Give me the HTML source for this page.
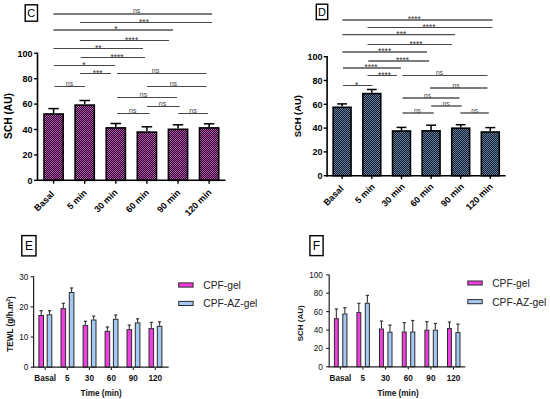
<!DOCTYPE html>
<html><head><meta charset="utf-8"><style>
html,body{margin:0;padding:0;background:#fff;width:550px;height:399px;overflow:hidden}
svg{display:block;font-family:"Liberation Sans", sans-serif}
</style></head><body>
<svg width="550" height="399" viewBox="0 0 550 399">
<rect width="550" height="399" fill="#fff"/>
<defs>
<pattern id="patC" x="0" y="0" width="2" height="2" patternUnits="userSpaceOnUse">
<rect width="2" height="2" fill="#1c081c"/><rect width="1" height="1" fill="#c24cba"/><rect x="1" y="1" width="1" height="1" fill="#c24cba"/>
</pattern>
<pattern id="patD" x="0" y="0" width="2" height="2" patternUnits="userSpaceOnUse">
<rect width="2" height="2" fill="#121820"/><rect width="1" height="1" fill="#6482ac"/><rect x="1" y="1" width="1" height="1" fill="#6482ac"/>
</pattern>
</defs>
<line x1="53.60" y1="113.20" x2="53.60" y2="108.60" stroke="#000" stroke-width="1.5"/>
<line x1="48.35" y1="108.60" x2="58.85" y2="108.60" stroke="#000" stroke-width="1.5"/>
<rect x="44.00" y="114.00" width="19.20" height="66.30" fill="url(#patC)" stroke="#000" stroke-width="1.6"/>
<line x1="84.70" y1="104.30" x2="84.70" y2="100.50" stroke="#000" stroke-width="1.5"/>
<line x1="79.45" y1="100.50" x2="89.95" y2="100.50" stroke="#000" stroke-width="1.5"/>
<rect x="75.10" y="105.10" width="19.20" height="75.20" fill="url(#patC)" stroke="#000" stroke-width="1.6"/>
<line x1="115.80" y1="127.10" x2="115.80" y2="123.50" stroke="#000" stroke-width="1.5"/>
<line x1="110.55" y1="123.50" x2="121.05" y2="123.50" stroke="#000" stroke-width="1.5"/>
<rect x="106.20" y="127.90" width="19.20" height="52.40" fill="url(#patC)" stroke="#000" stroke-width="1.6"/>
<line x1="146.90" y1="131.30" x2="146.90" y2="126.80" stroke="#000" stroke-width="1.5"/>
<line x1="141.65" y1="126.80" x2="152.15" y2="126.80" stroke="#000" stroke-width="1.5"/>
<rect x="137.30" y="132.10" width="19.20" height="48.20" fill="url(#patC)" stroke="#000" stroke-width="1.6"/>
<line x1="178.00" y1="128.50" x2="178.00" y2="124.80" stroke="#000" stroke-width="1.5"/>
<line x1="172.75" y1="124.80" x2="183.25" y2="124.80" stroke="#000" stroke-width="1.5"/>
<rect x="168.40" y="129.30" width="19.20" height="51.00" fill="url(#patC)" stroke="#000" stroke-width="1.6"/>
<line x1="209.10" y1="127.10" x2="209.10" y2="123.80" stroke="#000" stroke-width="1.5"/>
<line x1="203.85" y1="123.80" x2="214.35" y2="123.80" stroke="#000" stroke-width="1.5"/>
<rect x="199.50" y="127.90" width="19.20" height="52.40" fill="url(#patC)" stroke="#000" stroke-width="1.6"/>
<line x1="37.50" y1="52.50" x2="37.50" y2="181.10" stroke="#000" stroke-width="1.6"/>
<line x1="36.70" y1="180.30" x2="225.50" y2="180.30" stroke="#000" stroke-width="1.6"/>
<line x1="34.10" y1="180.30" x2="37.50" y2="180.30" stroke="#000" stroke-width="1.4"/>
<text x="32.50" y="183.50" font-size="9" text-anchor="end" font-weight="bold" fill="#000" >0</text>
<line x1="34.10" y1="154.90" x2="37.50" y2="154.90" stroke="#000" stroke-width="1.4"/>
<text x="32.50" y="158.10" font-size="9" text-anchor="end" font-weight="bold" fill="#000" >20</text>
<line x1="34.10" y1="129.50" x2="37.50" y2="129.50" stroke="#000" stroke-width="1.4"/>
<text x="32.50" y="132.70" font-size="9" text-anchor="end" font-weight="bold" fill="#000" >40</text>
<line x1="34.10" y1="104.10" x2="37.50" y2="104.10" stroke="#000" stroke-width="1.4"/>
<text x="32.50" y="107.30" font-size="9" text-anchor="end" font-weight="bold" fill="#000" >60</text>
<line x1="34.10" y1="78.70" x2="37.50" y2="78.70" stroke="#000" stroke-width="1.4"/>
<text x="32.50" y="81.90" font-size="9" text-anchor="end" font-weight="bold" fill="#000" >80</text>
<line x1="34.10" y1="53.30" x2="37.50" y2="53.30" stroke="#000" stroke-width="1.4"/>
<text x="32.50" y="56.50" font-size="9" text-anchor="end" font-weight="bold" fill="#000" >100</text>
<line x1="53.60" y1="180.30" x2="53.60" y2="183.70" stroke="#000" stroke-width="1.4"/>
<line x1="84.70" y1="180.30" x2="84.70" y2="183.70" stroke="#000" stroke-width="1.4"/>
<line x1="115.80" y1="180.30" x2="115.80" y2="183.70" stroke="#000" stroke-width="1.4"/>
<line x1="146.90" y1="180.30" x2="146.90" y2="183.70" stroke="#000" stroke-width="1.4"/>
<line x1="178.00" y1="180.30" x2="178.00" y2="183.70" stroke="#000" stroke-width="1.4"/>
<line x1="209.10" y1="180.30" x2="209.10" y2="183.70" stroke="#000" stroke-width="1.4"/>
<text x="54.80" y="194.80" font-size="9" text-anchor="end" font-weight="bold" fill="#000" transform="rotate(-45 54.80 194.80)">Basal</text>
<text x="87.50" y="193.35" font-size="9" text-anchor="end" font-weight="bold" fill="#000" transform="rotate(-45 87.50 193.35)">5 min</text>
<text x="118.10" y="192.85" font-size="9" text-anchor="end" font-weight="bold" fill="#000" transform="rotate(-45 118.10 192.85)">30 min</text>
<text x="149.55" y="193.20" font-size="9" text-anchor="end" font-weight="bold" fill="#000" transform="rotate(-45 149.55 193.20)">60 min</text>
<text x="181.00" y="193.20" font-size="9" text-anchor="end" font-weight="bold" fill="#000" transform="rotate(-45 181.00 193.20)">90 min</text>
<text x="212.10" y="192.85" font-size="9" text-anchor="end" font-weight="bold" fill="#000" transform="rotate(-45 212.10 192.85)">120 min</text>
<text x="8.30" y="116.00" font-size="10.2" text-anchor="middle" font-weight="bold" fill="#000" transform="rotate(-90 8.30 116.00)" dominant-baseline="central">SCH (AU)</text>
<line x1="53.50" y1="14.00" x2="212.00" y2="14.00" stroke="#505050" stroke-width="1.4"/>
<text x="136.60" y="13.00" font-size="7" text-anchor="middle" font-weight="normal" fill="#444" >ns</text>
<line x1="80.00" y1="22.50" x2="212.00" y2="22.50" stroke="#484848" stroke-width="1.0"/>
<text x="144.00" y="24.80" font-size="8.5" text-anchor="middle" font-weight="normal" fill="#333" >***</text>
<line x1="53.50" y1="30.00" x2="173.00" y2="30.00" stroke="#505050" stroke-width="1.4"/>
<text x="115.80" y="32.30" font-size="8.5" text-anchor="middle" font-weight="normal" fill="#333" >*</text>
<line x1="80.00" y1="40.50" x2="169.00" y2="40.50" stroke="#484848" stroke-width="1.0"/>
<text x="131.60" y="42.80" font-size="8.5" text-anchor="middle" font-weight="normal" fill="#333" >****</text>
<line x1="53.50" y1="48.50" x2="143.00" y2="48.50" stroke="#484848" stroke-width="1.0"/>
<text x="98.30" y="50.80" font-size="8.5" text-anchor="middle" font-weight="normal" fill="#333" >**</text>
<line x1="80.80" y1="57.50" x2="145.00" y2="57.50" stroke="#484848" stroke-width="1.0"/>
<text x="117.00" y="59.80" font-size="8.5" text-anchor="middle" font-weight="normal" fill="#333" >****</text>
<line x1="54.00" y1="65.50" x2="115.20" y2="65.50" stroke="#484848" stroke-width="1.0"/>
<text x="83.80" y="67.80" font-size="8.5" text-anchor="middle" font-weight="normal" fill="#333" >*</text>
<line x1="80.00" y1="73.50" x2="111.00" y2="73.50" stroke="#484848" stroke-width="1.0"/>
<text x="97.70" y="75.80" font-size="8.5" text-anchor="middle" font-weight="normal" fill="#333" >***</text>
<line x1="117.00" y1="73.50" x2="206.50" y2="73.50" stroke="#484848" stroke-width="1.0"/>
<text x="155.50" y="72.50" font-size="7" text-anchor="middle" font-weight="normal" fill="#444" >ns</text>
<line x1="54.30" y1="86.50" x2="85.10" y2="86.50" stroke="#484848" stroke-width="1.0"/>
<text x="69.50" y="85.50" font-size="7" text-anchor="middle" font-weight="normal" fill="#444" >ns</text>
<line x1="147.00" y1="86.50" x2="206.60" y2="86.50" stroke="#484848" stroke-width="1.0"/>
<text x="173.40" y="85.50" font-size="7" text-anchor="middle" font-weight="normal" fill="#444" >ns</text>
<line x1="117.20" y1="97.50" x2="177.00" y2="97.50" stroke="#484848" stroke-width="1.0"/>
<text x="143.50" y="96.50" font-size="7" text-anchor="middle" font-weight="normal" fill="#444" >ns</text>
<line x1="147.00" y1="106.50" x2="179.70" y2="106.50" stroke="#484848" stroke-width="1.0"/>
<text x="162.50" y="105.50" font-size="7" text-anchor="middle" font-weight="normal" fill="#444" >ns</text>
<line x1="117.20" y1="113.50" x2="149.60" y2="113.50" stroke="#484848" stroke-width="1.0"/>
<text x="132.80" y="112.50" font-size="7" text-anchor="middle" font-weight="normal" fill="#444" >ns</text>
<line x1="178.20" y1="113.50" x2="208.00" y2="113.50" stroke="#484848" stroke-width="1.0"/>
<text x="193.00" y="112.50" font-size="7" text-anchor="middle" font-weight="normal" fill="#444" >ns</text>
<rect x="25.20" y="4.80" width="12.30" height="16.40" fill="#fff" stroke="#000" stroke-width="1.4"/>
<text x="31.35" y="16.94" font-size="11" text-anchor="middle" font-weight="normal" fill="#000" >C</text>
<line x1="342.10" y1="106.50" x2="342.10" y2="103.90" stroke="#000" stroke-width="1.5"/>
<line x1="337.20" y1="103.90" x2="347.00" y2="103.90" stroke="#000" stroke-width="1.5"/>
<rect x="333.15" y="107.30" width="17.90" height="68.40" fill="url(#patD)" stroke="#000" stroke-width="1.6"/>
<line x1="371.80" y1="92.80" x2="371.80" y2="89.50" stroke="#000" stroke-width="1.5"/>
<line x1="366.90" y1="89.50" x2="376.70" y2="89.50" stroke="#000" stroke-width="1.5"/>
<rect x="362.85" y="93.60" width="17.90" height="82.10" fill="url(#patD)" stroke="#000" stroke-width="1.6"/>
<line x1="401.50" y1="130.20" x2="401.50" y2="127.40" stroke="#000" stroke-width="1.5"/>
<line x1="396.60" y1="127.40" x2="406.40" y2="127.40" stroke="#000" stroke-width="1.5"/>
<rect x="392.55" y="131.00" width="17.90" height="44.70" fill="url(#patD)" stroke="#000" stroke-width="1.6"/>
<line x1="431.10" y1="130.00" x2="431.10" y2="125.20" stroke="#000" stroke-width="1.5"/>
<line x1="426.20" y1="125.20" x2="436.00" y2="125.20" stroke="#000" stroke-width="1.5"/>
<rect x="422.15" y="130.80" width="17.90" height="44.90" fill="url(#patD)" stroke="#000" stroke-width="1.6"/>
<line x1="460.70" y1="127.40" x2="460.70" y2="124.70" stroke="#000" stroke-width="1.5"/>
<line x1="455.80" y1="124.70" x2="465.60" y2="124.70" stroke="#000" stroke-width="1.5"/>
<rect x="451.75" y="128.20" width="17.90" height="47.50" fill="url(#patD)" stroke="#000" stroke-width="1.6"/>
<line x1="490.30" y1="131.20" x2="490.30" y2="127.60" stroke="#000" stroke-width="1.5"/>
<line x1="485.40" y1="127.60" x2="495.20" y2="127.60" stroke="#000" stroke-width="1.5"/>
<rect x="481.35" y="132.00" width="17.90" height="43.70" fill="url(#patD)" stroke="#000" stroke-width="1.6"/>
<line x1="327.10" y1="56.00" x2="327.10" y2="176.50" stroke="#000" stroke-width="1.6"/>
<line x1="326.30" y1="175.70" x2="505.60" y2="175.70" stroke="#000" stroke-width="1.6"/>
<line x1="323.70" y1="175.70" x2="327.10" y2="175.70" stroke="#000" stroke-width="1.4"/>
<text x="322.50" y="178.90" font-size="9" text-anchor="end" font-weight="bold" fill="#000" >0</text>
<line x1="323.70" y1="151.90" x2="327.10" y2="151.90" stroke="#000" stroke-width="1.4"/>
<text x="322.50" y="155.10" font-size="9" text-anchor="end" font-weight="bold" fill="#000" >20</text>
<line x1="323.70" y1="128.10" x2="327.10" y2="128.10" stroke="#000" stroke-width="1.4"/>
<text x="322.50" y="131.30" font-size="9" text-anchor="end" font-weight="bold" fill="#000" >40</text>
<line x1="323.70" y1="104.30" x2="327.10" y2="104.30" stroke="#000" stroke-width="1.4"/>
<text x="322.50" y="107.50" font-size="9" text-anchor="end" font-weight="bold" fill="#000" >60</text>
<line x1="323.70" y1="80.50" x2="327.10" y2="80.50" stroke="#000" stroke-width="1.4"/>
<text x="322.50" y="83.70" font-size="9" text-anchor="end" font-weight="bold" fill="#000" >80</text>
<line x1="323.70" y1="56.70" x2="327.10" y2="56.70" stroke="#000" stroke-width="1.4"/>
<text x="322.50" y="59.90" font-size="9" text-anchor="end" font-weight="bold" fill="#000" >100</text>
<line x1="342.10" y1="175.70" x2="342.10" y2="179.10" stroke="#000" stroke-width="1.4"/>
<line x1="371.80" y1="175.70" x2="371.80" y2="179.10" stroke="#000" stroke-width="1.4"/>
<line x1="401.50" y1="175.70" x2="401.50" y2="179.10" stroke="#000" stroke-width="1.4"/>
<line x1="431.10" y1="175.70" x2="431.10" y2="179.10" stroke="#000" stroke-width="1.4"/>
<line x1="460.70" y1="175.70" x2="460.70" y2="179.10" stroke="#000" stroke-width="1.4"/>
<line x1="490.30" y1="175.70" x2="490.30" y2="179.10" stroke="#000" stroke-width="1.4"/>
<text x="344.20" y="189.25" font-size="9" text-anchor="end" font-weight="bold" fill="#000" transform="rotate(-45 344.20 189.25)">Basal</text>
<text x="375.30" y="187.40" font-size="9" text-anchor="end" font-weight="bold" fill="#000" transform="rotate(-45 375.30 187.40)">5 min</text>
<text x="405.40" y="187.00" font-size="9" text-anchor="end" font-weight="bold" fill="#000" transform="rotate(-45 405.40 187.00)">30 min</text>
<text x="434.10" y="187.00" font-size="9" text-anchor="end" font-weight="bold" fill="#000" transform="rotate(-45 434.10 187.00)">60 min</text>
<text x="464.60" y="187.00" font-size="9" text-anchor="end" font-weight="bold" fill="#000" transform="rotate(-45 464.60 187.00)">90 min</text>
<text x="493.30" y="187.00" font-size="9" text-anchor="end" font-weight="bold" fill="#000" transform="rotate(-45 493.30 187.00)">120 min</text>
<text x="297.80" y="116.20" font-size="9.4" text-anchor="middle" font-weight="bold" fill="#000" transform="rotate(-90 297.80 116.20)" dominant-baseline="central">SCH (AU)</text>
<line x1="342.40" y1="20.00" x2="492.50" y2="20.00" stroke="#505050" stroke-width="1.4"/>
<text x="414.30" y="22.30" font-size="8.5" text-anchor="middle" font-weight="normal" fill="#333" >****</text>
<line x1="367.50" y1="27.50" x2="492.50" y2="27.50" stroke="#484848" stroke-width="1.0"/>
<text x="429.00" y="29.80" font-size="8.5" text-anchor="middle" font-weight="normal" fill="#333" >****</text>
<line x1="342.40" y1="34.60" x2="455.10" y2="34.60" stroke="#505050" stroke-width="1.4"/>
<text x="401.30" y="36.90" font-size="8.5" text-anchor="middle" font-weight="normal" fill="#333" >***</text>
<line x1="367.50" y1="44.50" x2="451.90" y2="44.50" stroke="#484848" stroke-width="1.0"/>
<text x="416.00" y="46.80" font-size="8.5" text-anchor="middle" font-weight="normal" fill="#333" >****</text>
<line x1="342.40" y1="52.00" x2="427.00" y2="52.00" stroke="#505050" stroke-width="1.4"/>
<text x="384.60" y="54.30" font-size="8.5" text-anchor="middle" font-weight="normal" fill="#333" >****</text>
<line x1="368.30" y1="61.00" x2="429.10" y2="61.00" stroke="#505050" stroke-width="1.4"/>
<text x="402.50" y="63.30" font-size="8.5" text-anchor="middle" font-weight="normal" fill="#333" >****</text>
<line x1="342.90" y1="68.00" x2="400.80" y2="68.00" stroke="#505050" stroke-width="1.4"/>
<text x="371.00" y="70.30" font-size="8.5" text-anchor="middle" font-weight="normal" fill="#333" >****</text>
<line x1="367.50" y1="75.50" x2="396.80" y2="75.50" stroke="#484848" stroke-width="1.0"/>
<text x="384.50" y="77.80" font-size="8.5" text-anchor="middle" font-weight="normal" fill="#333" >****</text>
<line x1="402.50" y1="75.50" x2="487.50" y2="75.50" stroke="#484848" stroke-width="1.0"/>
<text x="439.60" y="75.00" font-size="6.6" text-anchor="middle" font-weight="normal" fill="#444" >ns</text>
<line x1="343.00" y1="85.50" x2="372.40" y2="85.50" stroke="#484848" stroke-width="1.0"/>
<text x="356.60" y="87.80" font-size="8.5" text-anchor="middle" font-weight="normal" fill="#333" >*</text>
<line x1="430.00" y1="88.00" x2="487.50" y2="88.00" stroke="#505050" stroke-width="1.4"/>
<text x="456.00" y="87.50" font-size="6.6" text-anchor="middle" font-weight="normal" fill="#444" >ns</text>
<line x1="402.50" y1="98.00" x2="459.50" y2="98.00" stroke="#505050" stroke-width="1.4"/>
<text x="427.50" y="97.50" font-size="6.6" text-anchor="middle" font-weight="normal" fill="#444" >ns</text>
<line x1="431.20" y1="106.00" x2="461.70" y2="106.00" stroke="#505050" stroke-width="1.4"/>
<text x="446.10" y="105.50" font-size="6.6" text-anchor="middle" font-weight="normal" fill="#444" >ns</text>
<line x1="402.50" y1="113.00" x2="433.70" y2="113.00" stroke="#505050" stroke-width="1.4"/>
<text x="417.40" y="112.50" font-size="6.6" text-anchor="middle" font-weight="normal" fill="#444" >ns</text>
<line x1="460.30" y1="113.00" x2="488.80" y2="113.00" stroke="#505050" stroke-width="1.4"/>
<text x="474.70" y="112.50" font-size="6.6" text-anchor="middle" font-weight="normal" fill="#444" >ns</text>
<rect x="316.30" y="4.20" width="11.40" height="15.40" fill="#fff" stroke="#000" stroke-width="1.4"/>
<text x="322.00" y="15.84" font-size="11" text-anchor="middle" font-weight="normal" fill="#000" >D</text>
<line x1="41.20" y1="315.00" x2="41.20" y2="310.70" stroke="#333" stroke-width="1.1"/>
<line x1="39.60" y1="310.70" x2="42.80" y2="310.70" stroke="#333" stroke-width="1.2"/>
<rect x="38.90" y="315.50" width="4.60" height="51.70" fill="#f03ee0" stroke="#2a2a2a" stroke-width="1.0"/>
<line x1="49.50" y1="314.30" x2="49.50" y2="310.70" stroke="#333" stroke-width="1.1"/>
<line x1="47.90" y1="310.70" x2="51.10" y2="310.70" stroke="#333" stroke-width="1.2"/>
<rect x="47.20" y="314.80" width="4.60" height="52.40" fill="#a3c9f4" stroke="#2a2a2a" stroke-width="1.0"/>
<line x1="63.30" y1="308.20" x2="63.30" y2="303.30" stroke="#333" stroke-width="1.1"/>
<line x1="61.70" y1="303.30" x2="64.90" y2="303.30" stroke="#333" stroke-width="1.2"/>
<rect x="61.00" y="308.70" width="4.60" height="58.50" fill="#f03ee0" stroke="#2a2a2a" stroke-width="1.0"/>
<line x1="71.60" y1="292.00" x2="71.60" y2="288.00" stroke="#333" stroke-width="1.1"/>
<line x1="70.00" y1="288.00" x2="73.20" y2="288.00" stroke="#333" stroke-width="1.2"/>
<rect x="69.30" y="292.50" width="4.60" height="74.70" fill="#a3c9f4" stroke="#2a2a2a" stroke-width="1.0"/>
<line x1="85.40" y1="325.10" x2="85.40" y2="321.30" stroke="#333" stroke-width="1.1"/>
<line x1="83.80" y1="321.30" x2="87.00" y2="321.30" stroke="#333" stroke-width="1.2"/>
<rect x="83.10" y="325.60" width="4.60" height="41.60" fill="#f03ee0" stroke="#2a2a2a" stroke-width="1.0"/>
<line x1="93.70" y1="319.50" x2="93.70" y2="316.10" stroke="#333" stroke-width="1.1"/>
<line x1="92.10" y1="316.10" x2="95.30" y2="316.10" stroke="#333" stroke-width="1.2"/>
<rect x="91.40" y="320.00" width="4.60" height="47.20" fill="#a3c9f4" stroke="#2a2a2a" stroke-width="1.0"/>
<line x1="107.40" y1="330.80" x2="107.40" y2="327.00" stroke="#333" stroke-width="1.1"/>
<line x1="105.80" y1="327.00" x2="109.00" y2="327.00" stroke="#333" stroke-width="1.2"/>
<rect x="105.10" y="331.30" width="4.60" height="35.90" fill="#f03ee0" stroke="#2a2a2a" stroke-width="1.0"/>
<line x1="115.70" y1="318.80" x2="115.70" y2="315.00" stroke="#333" stroke-width="1.1"/>
<line x1="114.10" y1="315.00" x2="117.30" y2="315.00" stroke="#333" stroke-width="1.2"/>
<rect x="113.40" y="319.30" width="4.60" height="47.90" fill="#a3c9f4" stroke="#2a2a2a" stroke-width="1.0"/>
<line x1="129.30" y1="329.20" x2="129.30" y2="325.10" stroke="#333" stroke-width="1.1"/>
<line x1="127.70" y1="325.10" x2="130.90" y2="325.10" stroke="#333" stroke-width="1.2"/>
<rect x="127.00" y="329.70" width="4.60" height="37.50" fill="#f03ee0" stroke="#2a2a2a" stroke-width="1.0"/>
<line x1="137.60" y1="322.40" x2="137.60" y2="318.80" stroke="#333" stroke-width="1.1"/>
<line x1="136.00" y1="318.80" x2="139.20" y2="318.80" stroke="#333" stroke-width="1.2"/>
<rect x="135.30" y="322.90" width="4.60" height="44.30" fill="#a3c9f4" stroke="#2a2a2a" stroke-width="1.0"/>
<line x1="151.30" y1="328.10" x2="151.30" y2="322.40" stroke="#333" stroke-width="1.1"/>
<line x1="149.70" y1="322.40" x2="152.90" y2="322.40" stroke="#333" stroke-width="1.2"/>
<rect x="149.00" y="328.60" width="4.60" height="38.60" fill="#f03ee0" stroke="#2a2a2a" stroke-width="1.0"/>
<line x1="159.60" y1="325.80" x2="159.60" y2="321.80" stroke="#333" stroke-width="1.1"/>
<line x1="158.00" y1="321.80" x2="161.20" y2="321.80" stroke="#333" stroke-width="1.2"/>
<rect x="157.30" y="326.30" width="4.60" height="40.90" fill="#a3c9f4" stroke="#2a2a2a" stroke-width="1.0"/>
<line x1="33.60" y1="276.20" x2="33.60" y2="367.70" stroke="#222" stroke-width="1.2"/>
<line x1="33.10" y1="367.20" x2="168.70" y2="367.20" stroke="#222" stroke-width="1.2"/>
<line x1="30.60" y1="367.20" x2="33.60" y2="367.20" stroke="#222" stroke-width="1.1"/>
<text x="28.30" y="370.15" font-size="8.2" text-anchor="end" font-weight="normal" fill="#111" >0</text>
<line x1="30.60" y1="337.05" x2="33.60" y2="337.05" stroke="#222" stroke-width="1.1"/>
<text x="28.30" y="340.00" font-size="8.2" text-anchor="end" font-weight="normal" fill="#111" >10</text>
<line x1="30.60" y1="306.90" x2="33.60" y2="306.90" stroke="#222" stroke-width="1.1"/>
<text x="28.30" y="309.85" font-size="8.2" text-anchor="end" font-weight="normal" fill="#111" >20</text>
<line x1="30.60" y1="276.75" x2="33.60" y2="276.75" stroke="#222" stroke-width="1.1"/>
<text x="28.30" y="279.70" font-size="8.2" text-anchor="end" font-weight="normal" fill="#111" >30</text>
<line x1="45.20" y1="367.20" x2="45.20" y2="370.00" stroke="#222" stroke-width="1.1"/>
<text x="45.20" y="380.90" font-size="8.2" text-anchor="middle" font-weight="bold" fill="#111" >Basal</text>
<line x1="67.30" y1="367.20" x2="67.30" y2="370.00" stroke="#222" stroke-width="1.1"/>
<text x="67.30" y="380.90" font-size="8.2" text-anchor="middle" font-weight="bold" fill="#111" >5</text>
<line x1="89.40" y1="367.20" x2="89.40" y2="370.00" stroke="#222" stroke-width="1.1"/>
<text x="89.40" y="380.90" font-size="8.2" text-anchor="middle" font-weight="bold" fill="#111" >30</text>
<line x1="111.40" y1="367.20" x2="111.40" y2="370.00" stroke="#222" stroke-width="1.1"/>
<text x="111.40" y="380.90" font-size="8.2" text-anchor="middle" font-weight="bold" fill="#111" >60</text>
<line x1="133.30" y1="367.20" x2="133.30" y2="370.00" stroke="#222" stroke-width="1.1"/>
<text x="133.30" y="380.90" font-size="8.2" text-anchor="middle" font-weight="bold" fill="#111" >90</text>
<line x1="155.30" y1="367.20" x2="155.30" y2="370.00" stroke="#222" stroke-width="1.1"/>
<text x="155.30" y="380.90" font-size="8.2" text-anchor="middle" font-weight="bold" fill="#111" >120</text>
<text x="101.20" y="396.00" font-size="8.2" text-anchor="middle" font-weight="bold" fill="#111" >Time (min)</text>
<text x="10.60" y="324.00" font-size="8.2" text-anchor="middle" font-weight="bold" fill="#111" dominant-baseline="central" transform="rotate(-90 10.60 324.00)">TEWL (g/h.m<tspan font-size="5" dy="-3">2</tspan><tspan dy="3">)</tspan></text>
<rect x="178.70" y="282.90" width="14.40" height="4.20" fill="#f03ee0" stroke="#2a2a2a" stroke-width="1.0"/>
<text x="203.30" y="288.70" font-size="10.25" text-anchor="start" font-weight="normal" fill="#222" >CPF-gel</text>
<rect x="178.70" y="301.40" width="14.40" height="4.10" fill="#a3c9f4" stroke="#2a2a2a" stroke-width="1.0"/>
<text x="203.30" y="307.30" font-size="10.25" text-anchor="start" font-weight="normal" fill="#222" >CPF-AZ-gel</text>
<rect x="21.80" y="235.60" width="14.20" height="20.30" fill="#fff" stroke="#000" stroke-width="1.4"/>
<text x="28.90" y="250.05" font-size="12" text-anchor="middle" font-weight="normal" fill="#000" >E</text>
<line x1="336.35" y1="318.20" x2="336.35" y2="309.00" stroke="#333" stroke-width="1.1"/>
<line x1="334.75" y1="309.00" x2="337.95" y2="309.00" stroke="#333" stroke-width="1.2"/>
<rect x="334.40" y="318.70" width="3.90" height="48.10" fill="#f03ee0" stroke="#2a2a2a" stroke-width="1.0"/>
<line x1="344.85" y1="313.50" x2="344.85" y2="307.70" stroke="#333" stroke-width="1.1"/>
<line x1="343.25" y1="307.70" x2="346.45" y2="307.70" stroke="#333" stroke-width="1.2"/>
<rect x="342.80" y="314.00" width="4.10" height="52.80" fill="#a3c9f4" stroke="#2a2a2a" stroke-width="1.0"/>
<line x1="358.85" y1="312.10" x2="358.85" y2="303.30" stroke="#333" stroke-width="1.1"/>
<line x1="357.25" y1="303.30" x2="360.45" y2="303.30" stroke="#333" stroke-width="1.2"/>
<rect x="356.90" y="312.60" width="3.90" height="54.20" fill="#f03ee0" stroke="#2a2a2a" stroke-width="1.0"/>
<line x1="367.35" y1="302.80" x2="367.35" y2="295.40" stroke="#333" stroke-width="1.1"/>
<line x1="365.75" y1="295.40" x2="368.95" y2="295.40" stroke="#333" stroke-width="1.2"/>
<rect x="365.30" y="303.30" width="4.10" height="63.50" fill="#a3c9f4" stroke="#2a2a2a" stroke-width="1.0"/>
<line x1="381.45" y1="328.50" x2="381.45" y2="321.10" stroke="#333" stroke-width="1.1"/>
<line x1="379.85" y1="321.10" x2="383.05" y2="321.10" stroke="#333" stroke-width="1.2"/>
<rect x="379.50" y="329.00" width="3.90" height="37.80" fill="#f03ee0" stroke="#2a2a2a" stroke-width="1.0"/>
<line x1="389.95" y1="331.70" x2="389.95" y2="325.10" stroke="#333" stroke-width="1.1"/>
<line x1="388.35" y1="325.10" x2="391.55" y2="325.10" stroke="#333" stroke-width="1.2"/>
<rect x="387.90" y="332.20" width="4.10" height="34.60" fill="#a3c9f4" stroke="#2a2a2a" stroke-width="1.0"/>
<line x1="404.25" y1="331.50" x2="404.25" y2="322.70" stroke="#333" stroke-width="1.1"/>
<line x1="402.65" y1="322.70" x2="405.85" y2="322.70" stroke="#333" stroke-width="1.2"/>
<rect x="402.30" y="332.00" width="3.90" height="34.80" fill="#f03ee0" stroke="#2a2a2a" stroke-width="1.0"/>
<line x1="412.75" y1="331.50" x2="412.75" y2="320.50" stroke="#333" stroke-width="1.1"/>
<line x1="411.15" y1="320.50" x2="414.35" y2="320.50" stroke="#333" stroke-width="1.2"/>
<rect x="410.70" y="332.00" width="4.10" height="34.80" fill="#a3c9f4" stroke="#2a2a2a" stroke-width="1.0"/>
<line x1="426.85" y1="329.70" x2="426.85" y2="321.70" stroke="#333" stroke-width="1.1"/>
<line x1="425.25" y1="321.70" x2="428.45" y2="321.70" stroke="#333" stroke-width="1.2"/>
<rect x="424.90" y="330.20" width="3.90" height="36.60" fill="#f03ee0" stroke="#2a2a2a" stroke-width="1.0"/>
<line x1="435.35" y1="329.70" x2="435.35" y2="323.50" stroke="#333" stroke-width="1.1"/>
<line x1="433.75" y1="323.50" x2="436.95" y2="323.50" stroke="#333" stroke-width="1.2"/>
<rect x="433.30" y="330.20" width="4.10" height="36.60" fill="#a3c9f4" stroke="#2a2a2a" stroke-width="1.0"/>
<line x1="449.45" y1="328.10" x2="449.45" y2="322.10" stroke="#333" stroke-width="1.1"/>
<line x1="447.85" y1="322.10" x2="451.05" y2="322.10" stroke="#333" stroke-width="1.2"/>
<rect x="447.50" y="328.60" width="3.90" height="38.20" fill="#f03ee0" stroke="#2a2a2a" stroke-width="1.0"/>
<line x1="457.95" y1="332.10" x2="457.95" y2="324.10" stroke="#333" stroke-width="1.1"/>
<line x1="456.35" y1="324.10" x2="459.55" y2="324.10" stroke="#333" stroke-width="1.2"/>
<rect x="455.90" y="332.60" width="4.10" height="34.20" fill="#a3c9f4" stroke="#2a2a2a" stroke-width="1.0"/>
<line x1="329.20" y1="274.80" x2="329.20" y2="367.30" stroke="#222" stroke-width="1.2"/>
<line x1="328.70" y1="366.80" x2="465.20" y2="366.80" stroke="#222" stroke-width="1.2"/>
<line x1="326.20" y1="366.80" x2="329.20" y2="366.80" stroke="#222" stroke-width="1.1"/>
<text x="322.80" y="369.75" font-size="8.2" text-anchor="end" font-weight="normal" fill="#111" >0</text>
<line x1="326.20" y1="348.40" x2="329.20" y2="348.40" stroke="#222" stroke-width="1.1"/>
<text x="322.80" y="351.35" font-size="8.2" text-anchor="end" font-weight="normal" fill="#111" >20</text>
<line x1="326.20" y1="330.00" x2="329.20" y2="330.00" stroke="#222" stroke-width="1.1"/>
<text x="322.80" y="332.95" font-size="8.2" text-anchor="end" font-weight="normal" fill="#111" >40</text>
<line x1="326.20" y1="311.60" x2="329.20" y2="311.60" stroke="#222" stroke-width="1.1"/>
<text x="322.80" y="314.55" font-size="8.2" text-anchor="end" font-weight="normal" fill="#111" >60</text>
<line x1="326.20" y1="293.20" x2="329.20" y2="293.20" stroke="#222" stroke-width="1.1"/>
<text x="322.80" y="296.15" font-size="8.2" text-anchor="end" font-weight="normal" fill="#111" >80</text>
<line x1="326.20" y1="274.80" x2="329.20" y2="274.80" stroke="#222" stroke-width="1.1"/>
<text x="322.80" y="277.75" font-size="8.2" text-anchor="end" font-weight="normal" fill="#111" >100</text>
<line x1="340.40" y1="366.80" x2="340.40" y2="369.60" stroke="#222" stroke-width="1.1"/>
<text x="340.40" y="380.60" font-size="8.2" text-anchor="middle" font-weight="bold" fill="#111" >Basal</text>
<line x1="362.90" y1="366.80" x2="362.90" y2="369.60" stroke="#222" stroke-width="1.1"/>
<text x="362.90" y="380.60" font-size="8.2" text-anchor="middle" font-weight="bold" fill="#111" >5</text>
<line x1="385.50" y1="366.80" x2="385.50" y2="369.60" stroke="#222" stroke-width="1.1"/>
<text x="385.50" y="380.60" font-size="8.2" text-anchor="middle" font-weight="bold" fill="#111" >30</text>
<line x1="408.30" y1="366.80" x2="408.30" y2="369.60" stroke="#222" stroke-width="1.1"/>
<text x="408.30" y="380.60" font-size="8.2" text-anchor="middle" font-weight="bold" fill="#111" >60</text>
<line x1="430.90" y1="366.80" x2="430.90" y2="369.60" stroke="#222" stroke-width="1.1"/>
<text x="430.90" y="380.60" font-size="8.2" text-anchor="middle" font-weight="bold" fill="#111" >90</text>
<line x1="453.50" y1="366.80" x2="453.50" y2="369.60" stroke="#222" stroke-width="1.1"/>
<text x="453.50" y="380.60" font-size="8.2" text-anchor="middle" font-weight="bold" fill="#111" >120</text>
<text x="398.00" y="395.70" font-size="8.2" text-anchor="middle" font-weight="bold" fill="#111" >Time (min)</text>
<text x="300.80" y="323.30" font-size="8.0" text-anchor="middle" font-weight="bold" fill="#111" dominant-baseline="central" transform="rotate(-90 300.80 323.30)">SCH (AU)</text>
<rect x="467.80" y="281.00" width="14.40" height="4.00" fill="#f03ee0" stroke="#2a2a2a" stroke-width="1.0"/>
<text x="492.20" y="286.90" font-size="10.25" text-anchor="start" font-weight="normal" fill="#222" >CPF-gel</text>
<rect x="467.80" y="299.60" width="14.40" height="4.10" fill="#a3c9f4" stroke="#2a2a2a" stroke-width="1.0"/>
<text x="492.20" y="305.50" font-size="10.25" text-anchor="start" font-weight="normal" fill="#222" >CPF-AZ-gel</text>
<rect x="309.90" y="235.70" width="13.20" height="19.90" fill="#fff" stroke="#000" stroke-width="1.4"/>
<text x="316.50" y="249.95" font-size="12" text-anchor="middle" font-weight="normal" fill="#000" >F</text>
</svg></body></html>
